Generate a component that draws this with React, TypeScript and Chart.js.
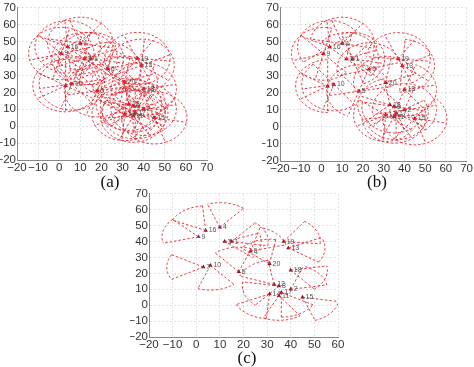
import React, { useEffect, useRef } from "react";
import { Chart, registerables } from "chart.js";
Chart.register(...registerables);

// Sensor nodes (same positions in all three panels)
const SENSOR_LABELS = ["1", "2", "3", "4", "5", "6", "7", "8", "9", "10", "11", "12", "13", "14", "15", "16", "17", "18", "19", "20"];
const SENSOR_X = [15, 40, 12, 10, 18, 23, 3, 35, 1, 6, 35, 33, 39, 31, 45, 4, 36, 40, 37, 31];
const SENSOR_Y = [40, 10, 40, 49, 21, 34, 24, 12, 43, 25, 6, 13, 36, 7, 5, 47, 8, 22, 40, 26];
// working direction (deg) of each sensor in panel (c)
const SENSOR_DIR = [20, 40, 350, 80, 100, 45, 180, 200, 165, 280, 275, 130, 355, 235, 320, 125, 300, 340, 25, 110];
const SENSING_RADIUS = 15.5;
const SECTOR_ANGLE = 60;

// sectors (first, last) relative to working direction, in units of SECTOR_ANGLE, drawn per panel
const SECTORS_A = SENSOR_LABELS.map(() => [0, 5]);
const SECTORS_B = [
  [-1, 1], [-1, 2], [0, 2], [-1, 1], [-1, 2], [0, 2], [-1, 1], [0, 2],
  [-1, 2], [-2, 0], [-1, 1], [0, 1], [-1, 1], [-1, 1], [-2, 1], [-1, 1],
  [-1, 1], [-1, 1], [-1, 2], [-1, 1],
];
const SECTORS_C = SENSOR_LABELS.map(() => [0, 0]);

const X_TICKS_AB = [-20, -10, 0, 10, 20, 30, 40, 50, 60, 70];
const X_TICKS_C = [-20, -10, 0, 10, 20, 30, 40, 50, 60];
const Y_TICKS = [-20, -10, 0, 10, 20, 30, 40, 50, 60, 70];

const RED = "rgba(226,38,48,0.9)";
const MARKER = "#7a1426";

function arcPath(i: number, a0: number, a1: number) {
  const cx = SENSOR_X[i];
  const cy = SENSOR_Y[i];
  const pts: { x: number; y: number }[] = [];
  for (let a = a0; a <= a1 + 0.001; a += 3) {
    const r = (a * Math.PI) / 180;
    pts.push({ x: cx + SENSING_RADIUS * Math.cos(r), y: cy + SENSING_RADIUS * Math.sin(r) });
  }
  return pts;
}
function radialPath(i: number, a: number) {
  const r = (a * Math.PI) / 180;
  return [
    { x: SENSOR_X[i], y: SENSOR_Y[i] },
    { x: SENSOR_X[i] + SENSING_RADIUS * Math.cos(r), y: SENSOR_Y[i] + SENSING_RADIUS * Math.sin(r) },
  ];
}

const labelPlugin = {
  id: "sensorLabels",
  afterDatasetsDraw(chart: any) {
    const ctx = chart.ctx;
    const idx = chart.data.datasets.length - 1;
    const meta = chart.getDatasetMeta(idx);
    ctx.save();
    ctx.font = "7px 'Liberation Sans', Arial, sans-serif";
    ctx.fillStyle = "#555";
    ctx.textBaseline = "middle";
    meta.data.forEach((el: any, j: number) => {
      ctx.fillText(SENSOR_LABELS[j], el.x + 3, el.y);
    });
    ctx.restore();
  },
};

type PanelProps = {
  left: number; top: number; width: number; height: number;
  yAxisWidth: number; xAxisHeight: number; padTop: number; padRight: number;
  xTicks: number[]; sectors: number[][]; markerColors: string[];
};

function Panel(p: PanelProps) {
  const ref = useRef<HTMLCanvasElement>(null);
  useEffect(() => {
    const datasets: any[] = [];
    const lineStyle = {
      showLine: true,
      borderColor: RED,
      borderWidth: 1,
      borderDash: [2.5, 2],
      pointRadius: 0,
      fill: false,
    };
    p.sectors.forEach(([k0, k1], i) => {
      const a0 = SENSOR_DIR[i] + k0 * SECTOR_ANGLE - SECTOR_ANGLE / 2;
      const a1 = SENSOR_DIR[i] + k1 * SECTOR_ANGLE + SECTOR_ANGLE / 2;
      datasets.push({ ...lineStyle, data: arcPath(i, a0, a1) });
      const full = a1 - a0 >= 359;
      const nRad = full ? k1 - k0 + 1 : k1 - k0 + 2;
      for (let j = 0; j < nRad; j++) {
        datasets.push({ ...lineStyle, data: radialPath(i, a0 + j * SECTOR_ANGLE) });
      }
    });
    datasets.push({
      data: SENSOR_X.map((x, i) => ({ x, y: SENSOR_Y[i] })),
      pointStyle: "triangle",
      pointRadius: 2.5,
      backgroundColor: p.markerColors,
      borderColor: p.markerColors,
      borderWidth: 0,
      showLine: false,
    });
    const tickFont = { family: "'Liberation Sans', Arial, sans-serif", size: 11.5 };
    const fmt = (v: any) => String(v).replace("-", "\u2212");
    const chart = new Chart(ref.current as HTMLCanvasElement, {
      type: "scatter",
      data: { datasets },
      options: {
        animation: false,
        responsive: false,
        devicePixelRatio: 1,
        layout: { padding: { top: p.padTop, right: p.padRight, left: 0, bottom: 0 } },
        plugins: { legend: { display: false }, tooltip: { enabled: false } },
        scales: {
          x: {
            type: "linear",
            min: p.xTicks[0],
            max: p.xTicks[p.xTicks.length - 1],
            afterBuildTicks: (s: any) => { s.ticks = p.xTicks.map((v) => ({ value: v })); },
            afterFit: (s: any) => { s.height = p.xAxisHeight; },
            ticks: { font: tickFont, color: "#333", padding: 1, callback: fmt, maxRotation: 0, autoSkip: false },
            grid: { color: "#e2e2e2", drawTicks: false },
            border: { display: true, color: "#888", dash: [2, 2] },
          },
          y: {
            type: "linear",
            min: Y_TICKS[0],
            max: Y_TICKS[Y_TICKS.length - 1],
            afterBuildTicks: (s: any) => { s.ticks = Y_TICKS.map((v) => ({ value: v })); },
            afterFit: (s: any) => { s.width = p.yAxisWidth; },
            ticks: { font: tickFont, color: "#333", padding: 1, callback: fmt, autoSkip: false },
            grid: { color: "#e2e2e2", drawTicks: false },
            border: { display: true, color: "#888", dash: [2, 2] },
          },
        },
      } as any,
      plugins: [labelPlugin],
    });
    return () => chart.destroy();
  }, []);
  return (
    <canvas
      ref={ref}
      width={p.width}
      height={p.height}
      style={{ position: "absolute", left: p.left, top: p.top, width: p.width, height: p.height }}
    />
  );
}

const captionStyle: React.CSSProperties = {
  position: "absolute",
  fontFamily: "'Liberation Serif', 'Times New Roman', serif",
  fontSize: 17,
  color: "#111",
  transform: "translate(-50%, -50%)",
  whiteSpace: "nowrap",
};

export default function App() {
  const red = SENSOR_LABELS.map(() => MARKER);
  const cColors = SENSOR_LABELS.map((l) => (l === "9" ? "#2a5fa8" : MARKER));
  return (
    <div style={{ position: "fixed", left: 0, top: 0, width: 474, height: 367, background: "#fff", overflow: "hidden" }}>
      <Panel left={0} top={0} width={215} height={175} yAxisWidth={17} xAxisHeight={15} padTop={5} padRight={8}
        xTicks={X_TICKS_AB} sectors={SECTORS_A} markerColors={red} />
      <Panel left={262} top={0} width={212} height={175} yAxisWidth={18} xAxisHeight={14} padTop={5} padRight={7}
        xTicks={X_TICKS_AB} sectors={SECTORS_B} markerColors={red} />
      <Panel left={130} top={186} width={220} height={168} yAxisWidth={19} xAxisHeight={17} padTop={5} padRight={12}
        xTicks={X_TICKS_C} sectors={SECTORS_C} markerColors={cColors} />
      <div style={{ ...captionStyle, left: 110, top: 182 }}>(a)</div>
      <div style={{ ...captionStyle, left: 377, top: 182 }}>(b)</div>
      <div style={{ ...captionStyle, left: 247, top: 358 }}>(c)</div>
    </div>
  );
}
